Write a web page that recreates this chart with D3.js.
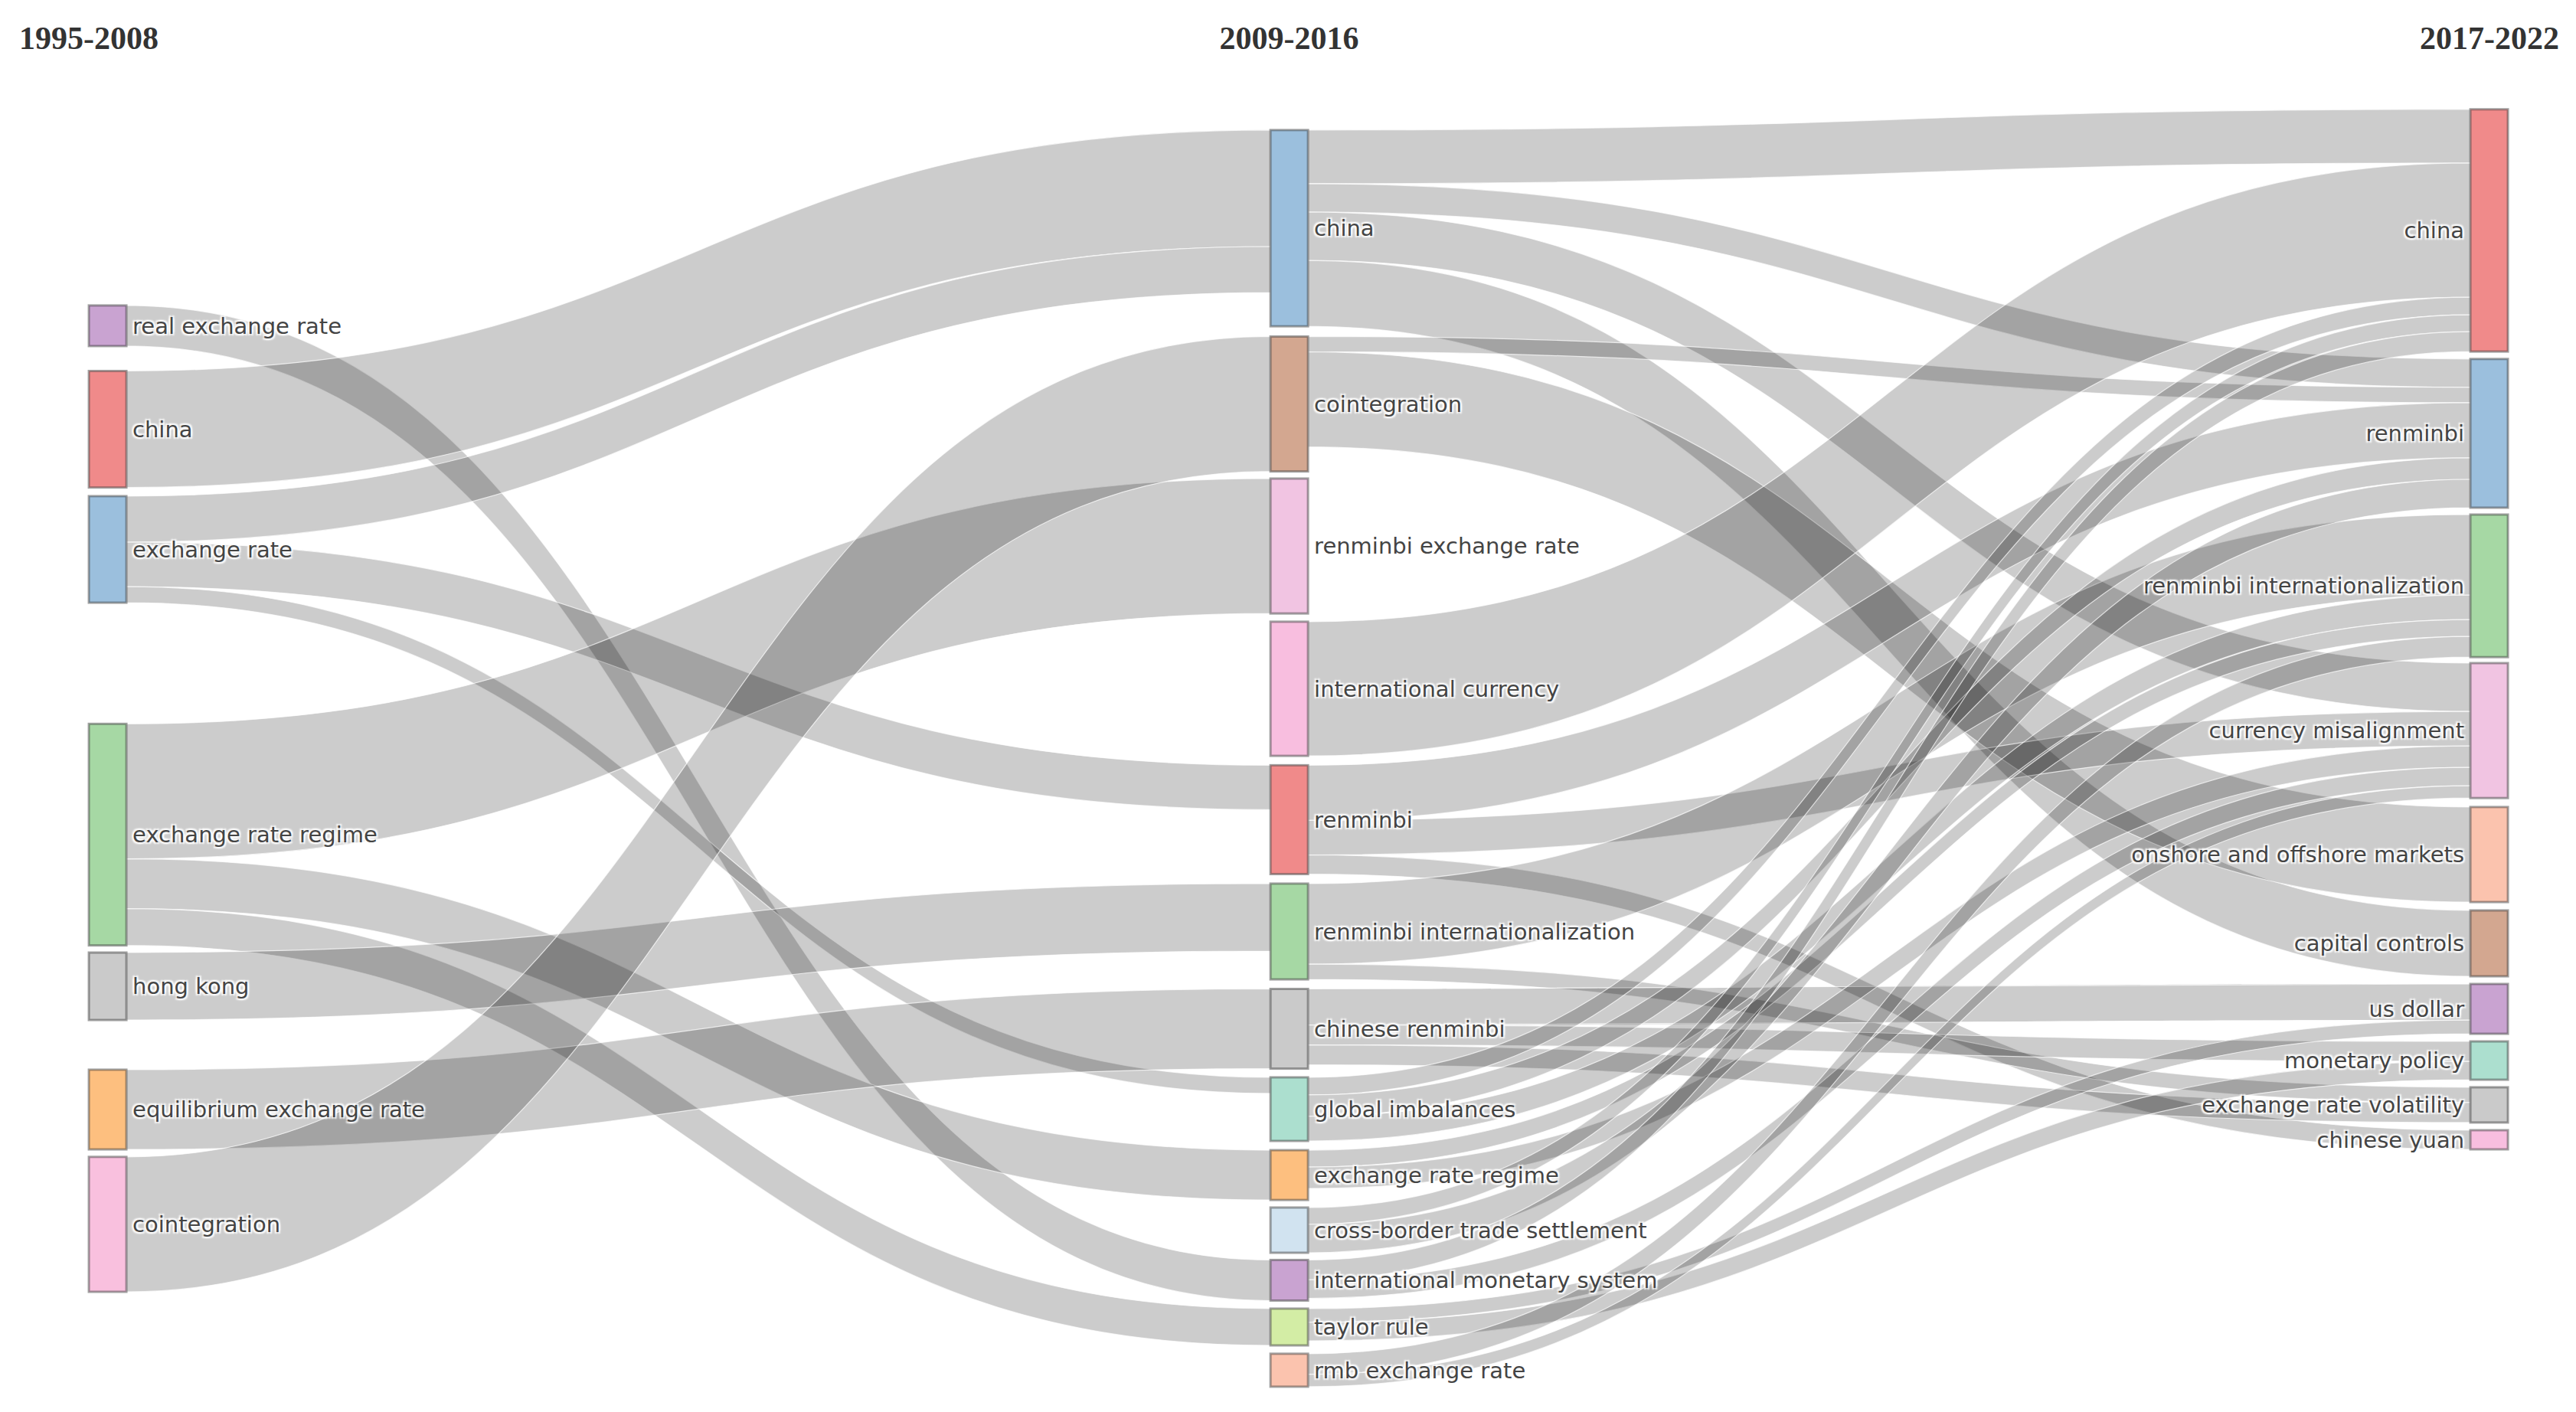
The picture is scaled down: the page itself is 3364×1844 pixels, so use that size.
<!DOCTYPE html>
<html>
<head>
<meta charset="utf-8">
<script src="https://cdn.jsdelivr.net/npm/d3@7"></script>
<style>
  html, body { margin: 0; padding: 0; background: #fff; }
  svg { display: block; }
  .lbl { font-family: "DejaVu Sans", Verdana, sans-serif; font-size: 29px; fill: #444;
         text-shadow: 2px 2px 2px #fff, -2px -2px 2px #fff, 2px -2px 2px #fff, -2px 2px 2px #fff; }
  .hdr { font-family: "Liberation Serif", "Times New Roman", serif; font-weight: bold; font-size: 42px; fill: #333; }
</style>
</head>
<body>
<svg id="chart"></svg>
<script>
// ---------------- DATA ----------------
const periods = ["1995-2008", "2009-2016", "2017-2022"];

const keywords1995 = ["real exchange rate", "china", "exchange rate", "exchange rate regime",
  "hong kong", "equilibrium exchange rate", "cointegration"];
const keywords2009 = ["china", "cointegration", "renminbi exchange rate", "international currency",
  "renminbi", "renminbi internationalization", "chinese renminbi", "global imbalances",
  "exchange rate regime", "cross-border trade settlement", "international monetary system",
  "taylor rule", "rmb exchange rate"];
const keywords2017 = ["china", "renminbi", "renminbi internationalization", "currency misalignment",
  "onshore and offshore markets", "capital controls", "us dollar", "monetary policy",
  "exchange rate volatility", "chinese yuan"];

// flows [source keyword, target keyword, value]
const flows1995to2009 = [
  ["real exchange rate", "international monetary system", 53],
  ["china", "china", 152],
  ["exchange rate", "china", 60],
  ["exchange rate", "renminbi", 58],
  ["exchange rate", "global imbalances", 21],
  ["exchange rate regime", "renminbi exchange rate", 176],
  ["exchange rate regime", "exchange rate regime", 65],
  ["exchange rate regime", "taylor rule", 48],
  ["hong kong", "renminbi internationalization", 88],
  ["equilibrium exchange rate", "chinese renminbi", 104],
  ["cointegration", "cointegration", 176]
];
const flows2009to2017 = [
  ["china", "china", 70],
  ["china", "renminbi", 37],
  ["china", "currency misalignment", 63],
  ["china", "capital controls", 86],
  ["cointegration", "renminbi", 20],
  ["cointegration", "onshore and offshore markets", 124],
  ["international currency", "china", 175],
  ["renminbi", "renminbi", 72],
  ["renminbi", "currency misalignment", 45],
  ["renminbi", "chinese yuan", 25],
  ["renminbi internationalization", "renminbi internationalization", 105],
  ["renminbi internationalization", "exchange rate volatility", 20],
  ["chinese renminbi", "us dollar", 47],
  ["chinese renminbi", "monetary policy", 26],
  ["chinese renminbi", "exchange rate volatility", 26],
  ["global imbalances", "china", 23],
  ["global imbalances", "renminbi", 28],
  ["global imbalances", "renminbi internationalization", 32],
  ["exchange rate regime", "renminbi internationalization", 22],
  ["exchange rate regime", "currency misalignment", 28],
  ["cross-border trade settlement", "china", 22],
  ["cross-border trade settlement", "renminbi", 37],
  ["international monetary system", "china", 26],
  ["international monetary system", "currency misalignment", 24],
  ["taylor rule", "us dollar", 18],
  ["taylor rule", "monetary policy", 24],
  ["rmb exchange rate", "renminbi internationalization", 27],
  ["rmb exchange rate", "currency misalignment", 16]
];

// ---------------- STYLE / LAYOUT OPTIONS ----------------
const colors1995 = ["#c9a3d1", "#f08a8a", "#9bbfdd", "#a6d8a4", "#cacaca", "#fdbf7f", "#f9c0de"];
const colors2009 = ["#9bbfdd", "#d3a790", "#f1c4e2", "#f8bedf", "#f08a8a", "#a6d8a4", "#cacaca",
  "#acdfcf", "#fdbf7f", "#d1e3f0", "#c9a3d1", "#d3eda5", "#fbc3ae"];
const colors2017 = ["#f08a8a", "#9bbfdd", "#a6d8a4", "#f1c4e2", "#fbc3ae", "#d3a790", "#c9a3d1",
  "#acdfcf", "#cacaca", "#f8bedf"];

// plotly-style node.x / node.y (fractions of the figure)
const columnX = [0.0345, 0.4932, 0.959];
const nodeY1995 = [0.2307, 0.3040, 0.3891, 0.5911, 0.6985, 0.7858, 0.8671];
const nodeY2009 = [0.1616, 0.2861, 0.3867, 0.4878, 0.5805, 0.6597, 0.7286, 0.7855, 0.8322,
  0.8712, 0.9067, 0.9398, 0.9704];
const nodeY2017 = [0.1632, 0.3069, 0.4149, 0.5174, 0.6052, 0.6681, 0.7145, 0.7511, 0.7825, 0.8072];

const W = 3364, H = 1844;
const nodeWidth = 49, nodePad = 11.5, labelGap = 8;
const spanTop = 0.09, spanBottom = 0.982;

// ---------------- BUILD ----------------
const svg = d3.select("#chart").attr("width", W).attr("height", H).attr("viewBox", `0 0 ${W} ${H}`);
svg.append("rect").attr("width", W).attr("height", H).attr("fill", "#fff");

const xS = d3.scaleLinear().domain([0, 1]).range([0, W]);
const yS = d3.scaleLinear().domain([0, 1]).range([0, H]);

const cols = [
  { names: keywords1995, colors: colors1995, ys: nodeY1995 },
  { names: keywords2009, colors: colors2009, ys: nodeY2009 },
  { names: keywords2017, colors: colors2017, ys: nodeY2017 }
];
const nodes = [];
const byId = new Map();
cols.forEach((c, ci) => c.names.forEach((n, i) => {
  const node = { id: ci + ":" + n, name: n, col: ci, color: c.colors[i], yf: c.ys[i],
                 sourceLinks: [], targetLinks: [] };
  nodes.push(node); byId.set(node.id, node);
}));
const links = [];
[[flows1995to2009, 0], [flows2009to2017, 1]].forEach(([arr, c]) => arr.forEach(([s, t, v]) => {
  const l = { source: byId.get(c + ":" + s), target: byId.get((c + 1) + ":" + t), value: v };
  l.source.sourceLinks.push(l); l.target.targetLinks.push(l); links.push(l);
}));
nodes.forEach(n => {
  n.value = Math.max(d3.sum(n.sourceLinks, l => l.value), d3.sum(n.targetLinks, l => l.value));
});

// value -> pixel scale, set by the densest (middle) column
const midNodes = nodes.filter(n => n.col === 1);
const kS = d3.scaleLinear()
  .domain([0, d3.sum(midNodes, n => n.value)])
  .range([0, (yS(spanBottom) - yS(spanTop)) - nodePad * (midNodes.length - 1)]);

nodes.forEach(n => {
  n.x0 = xS(columnX[n.col]); n.x1 = n.x0 + nodeWidth;
  const h = kS(n.value), cy = yS(n.yf);
  n.y0 = cy - h / 2; n.y1 = cy + h / 2; n.cy = cy;
});
links.forEach(l => l.width = kS(l.value));
nodes.forEach(n => {
  n.sourceLinks.sort((a, b) => a.target.cy - b.target.cy);
  n.targetLinks.sort((a, b) => a.source.cy - b.source.cy);
  let y = n.y0; n.sourceLinks.forEach(l => { l.sy = y; y += l.width; });
  y = n.y0; n.targetLinks.forEach(l => { l.ty = y; y += l.width; });
});

function linkPath(l) {
  const x0 = l.source.x1, x1 = l.target.x0, xm = d3.interpolateNumber(x0, x1)(0.5);
  const p = d3.path();
  p.moveTo(x0, l.sy);
  p.bezierCurveTo(xm, l.sy, xm, l.ty, x1, l.ty);
  p.lineTo(x1, l.ty + l.width);
  p.bezierCurveTo(xm, l.ty + l.width, xm, l.sy + l.width, x0, l.sy + l.width);
  p.closePath();
  return p.toString();
}

svg.append("g").selectAll("path").data(links).join("path")
  .attr("d", linkPath)
  .attr("fill", "rgba(0,0,0,0.2)")
  .attr("stroke", "#fff").attr("stroke-width", 1.2).attr("stroke-opacity", 0.7);

svg.append("g").selectAll("rect").data(nodes).join("rect")
  .attr("x", d => d.x0).attr("y", d => d.y0)
  .attr("width", nodeWidth).attr("height", d => d.y1 - d.y0)
  .attr("fill", d => d.color)
  .attr("stroke", "#444").attr("stroke-opacity", 0.5).attr("stroke-width", 3);

svg.append("g").selectAll("text").data(nodes).join("text")
  .attr("class", "lbl")
  .attr("x", d => d.col === 2 ? d.x0 - labelGap : d.x1 + labelGap)
  .attr("y", d => d.cy)
  .attr("dy", "0.35em")
  .attr("text-anchor", d => d.col === 2 ? "end" : "start")
  .text(d => d.name);

// column headings
const hdrX = [xS(columnX[0]) - 91, xS(columnX[1]) + nodeWidth / 2, W - 22];
const hdrAnchor = ["start", "middle", "end"];
svg.append("g").selectAll("text").data(periods).join("text")
  .attr("class", "hdr")
  .attr("x", (d, i) => hdrX[i]).attr("y", 64)
  .attr("text-anchor", (d, i) => hdrAnchor[i])
  .text(d => d);
</script>
</body>
</html>
